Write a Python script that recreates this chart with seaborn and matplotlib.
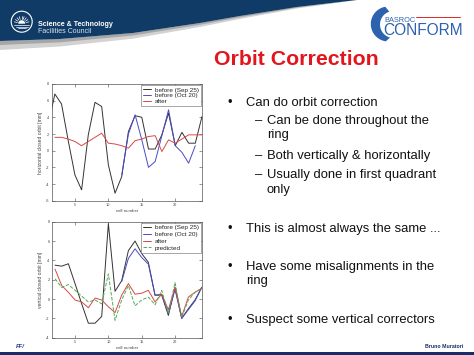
import matplotlib
matplotlib.use("Agg")
import matplotlib.pyplot as plt
import seaborn as sns
import numpy as np
from matplotlib.patches import Polygon, Circle

# ---------------- data ----------------
h_cells_sep = list(range(1, 25))
h_before_sep = [3.0, 6.8, 5.6, 1.2, -2.9, -4.7, 1.9, 5.8, 5.3, -1.7, -5.1, -3.1,
                2.3, 4.2, 4.0, 0.2, 0.2, 1.9, 4.5, 0.6, 2.2, 0.9, 0.9, 4.1]
h_cells_oct = list(range(12, 24))
h_before_oct = [-2.9, 2.0, 4.3, 1.3, -2.0, -1.3, 1.8, 4.9, 0.6, -0.2, -1.5, 0.6]
h_cells_after = list(range(2, 25))
h_after = [1.6, 1.6, 1.4, 1.1, 0.6, 1.1, 1.6, 2.1, 0.9, 0.8, 0.6, 0.3,
           1.2, 1.4, 1.7, 1.8, -0.1, 1.3, 0.9, 1.4, 1.9, 1.9, 1.9]

v_cells = list(range(2, 25))
v_before_sep = [3.5, 3.4, 3.65, 1.6, -0.5, -2.5, -2.5, -1.8, 7.8, 0.8, 1.9, 5.0,
                6.0, 4.7, 3.8, 0.4, 0.4, -1.7, 1.2, -2.0, -1.0, -0.1, 1.2]
v_cells_oct = list(range(12, 25))
v_before_oct = [1.8, 4.2, 5.2, 4.3, 3.6, 0.4, 0.5, -1.5, 1.0, -2.0, -1.1, -0.2, 1.2]
v_after = [3.1, 1.4, 0.7, -0.1, -0.3, -0.9, 0.1, -0.1, -0.8, -1.4, 0.4, 1.6,
           0.5, 0.6, 0.9, -0.3, 0.5, -1.1, 1.2, -1.8, 0.2, 0.7, 1.1]
v_predicted = [2.1, 1.2, 1.5, 0.9, 0.3, -0.3, -0.1, -0.5, 2.6, -2.2, -0.1, 1.4,
               -0.7, -0.1, 0.2, -0.6, 0.9, -1.5, 1.7, -1.9, -0.1, 0.7, 1.1]

labels = ["before (Sep 25)", "before (Oct 20)", "after", "predicted"]
x_ticks = [5, 10, 15, 20]
h_yticks = [-6, -4, -2, 0, 2, 4, 6, 8]
v_yticks = [-4, -2, 0, 2, 4, 6, 8]

title = "Orbit Correction"
bullets = [
    ("•", "Can do orbit correction", 105.7, 0),
    ("–", "Can be done throughout the", 124.3, 1),
    ("", "ring", 138.3, 1),
    ("–", "Both vertically & horizontally", 159.0, 1),
    ("–", "Usually done in first quadrant", 177.7, 1),
    ("", "only", 192.7, 1),
    ("•", "This is almost always the same ...", 232.0, 0),
    ("•", "Have some misalignments in the", 269.7, 0),
    ("", "ring", 284.3, 0),
    ("•", "Suspect some vertical correctors", 323.3, 0),
]

# ---------------- style ----------------
sns.set_theme(style="ticks")
plt.rcParams["font.family"] = ["Liberation Sans", "DejaVu Sans"]

C_BLACK = "#333333"
C_BLUE = "#4a4ac8"
C_RED = "#d84848"
C_GREEN = "#55aa55"

fig = plt.figure(figsize=(4.74, 3.55), dpi=100)
fig.patch.set_facecolor("white")

# ---------------- slide decoration (pixel coordinates) ----------------
bg = fig.add_axes([0, 0, 1, 1], zorder=0)
bg.set_xlim(0, 474)
bg.set_ylim(355, 0)
bg.axis("off")

bx = np.linspace(0, 357, 200)
by = np.interp(bx, [0, 60, 133, 200, 240, 297, 357], [41, 39, 33, 23, 16, 7, 0])
thick = 9 * (1 - bx / 357)
gray_pts = list(zip(bx, by)) + list(zip(bx[::-1], (by + thick)[::-1]))
bg.add_patch(Polygon(gray_pts, closed=True, facecolor="#d2d2d2", edgecolor="none"))
thick2 = 4 * (1 - bx / 357)
gray2 = list(zip(bx, by)) + list(zip(bx[::-1], (by + thick2)[::-1]))
bg.add_patch(Polygon(gray2, closed=True, facecolor="#a6a6a6", edgecolor="none"))
navy_pts = [(0, 0), (357, 0)] + list(zip(bx[::-1], by[::-1]))
bg.add_patch(Polygon(navy_pts, closed=True, facecolor="#0f3b66", edgecolor="none"))

# STFC logo
cx, cy = 21.7, 21.7
bg.add_patch(Circle((cx, cy), 10.5, facecolor="none", edgecolor="white", lw=0.8))
th = np.linspace(0, np.pi, 40)
bg.add_patch(Polygon(list(zip(cx + 3.5 * np.cos(th), cy + 2 - 3.5 * np.sin(th))),
                     closed=True, facecolor="white", edgecolor="none"))
for a in np.linspace(0.25, np.pi - 0.25, 9):
    bg.plot([cx + 4.5 * np.cos(a), cx + 7.5 * np.cos(a)],
            [cy + 2 - 4.5 * np.sin(a), cy + 2 - 7.5 * np.sin(a)], color="white", lw=0.5)
for k, w in enumerate([7.5, 6, 4]):
    bg.plot([cx - w, cx + w], [cy + 3.2 + 1.6 * k, cy + 3.2 + 1.6 * k], color="white", lw=0.5)
bg.text(37.7, 26, "Science & Technology", color="white", fontsize=5.1,
        fontweight="bold", va="baseline", ha="left")
bg.text(37.7, 33, "Facilities Council", color="#dde4ee", fontsize=5.0,
        va="baseline", ha="left")

# BASROC CONFORM logo
ocx, ocy, orr = 388.3, 24.0, 17.5
icx, icy, irr = 393.5, 24.5, 13.5
t1 = np.radians(np.linspace(100, 262, 60))
t2 = np.radians(np.linspace(255, 108, 60))
c_pts = list(zip(ocx + orr * np.cos(t1), ocy - orr * np.sin(t1))) + \
        list(zip(icx + irr * np.cos(t2), icy - irr * np.sin(t2)))
bg.add_patch(Polygon(c_pts, closed=True, facecolor="#2d62ae", edgecolor="none"))
bg.text(384, 21.7, "BASROC", color="#2d62ae", fontsize=5.3, va="baseline", ha="left")
bg.plot([416, 460], [16.5, 16.5], color="#d62a2a", lw=0.7)
bg.text(383, 35, "CONFORM", color="#2d62ae", fontsize=11.2, va="baseline", ha="left")

# title
bg.text(296.5, 65, title, color="#e3151c", fontsize=15.3, fontweight="bold",
        ha="center", va="baseline")

# bullets
for sym, txt, yb, lvl in bullets:
    if lvl == 0:
        if sym:
            bg.text(228, yb, sym, fontsize=9.4, color="#111111", va="baseline", ha="left")
        bg.text(246, yb, txt, fontsize=9.4, color="#111111", va="baseline", ha="left")
    else:
        if sym:
            bg.text(255, yb, sym, fontsize=9.4, color="#111111", va="baseline", ha="left")
        bg.text(266.7, yb, txt, fontsize=9.4, color="#111111", va="baseline", ha="left")

# footer
bg.add_patch(plt.Rectangle((0, 352), 474, 3, facecolor="#1b2a6b", edgecolor="none"))
bg.text(16, 347.5, "FF/", color="#2a3c8c", fontsize=4.2, fontstyle="italic",
        fontweight="bold", va="baseline", ha="left")
bg.text(463, 347.5, "Bruno Muratori", color="#1b2a6b", fontsize=3.8,
        fontweight="bold", va="baseline", ha="right")


# ---------------- charts ----------------
def style_axes(ax, yticks, ylim, ylabel):
    ax.set_xlim(1.5, 24)
    ax.set_ylim(*ylim)
    ax.set_xticks(x_ticks)
    ax.set_yticks(yticks)
    ax.set_xticklabels([str(t) for t in x_ticks])
    ax.set_yticklabels([str(t) for t in yticks])
    ax.tick_params(direction="in", length=2, width=0.4, labelsize=2.8,
                   colors="#444444", pad=1.5, top=True, right=True)
    for s in ax.spines.values():
        s.set_visible(True)
        s.set_linewidth(0.5)
        s.set_color("#555555")
    ax.set_xlabel("cell number", fontsize=3.2, color="#444444", labelpad=1.5)
    ax.set_ylabel(ylabel, fontsize=3.6, color="#444444", labelpad=2)
    ax.set_facecolor("white")


ax1 = fig.add_axes([51.5 / 474, (355 - 200.7) / 355, 150.5 / 474, 116.7 / 355], zorder=2)
sns.lineplot(x=h_cells_sep, y=h_before_sep, ax=ax1, color=C_BLACK, lw=0.7, label=labels[0])
sns.lineplot(x=h_cells_oct, y=h_before_oct, ax=ax1, color=C_BLUE, lw=0.7, label=labels[1])
sns.lineplot(x=h_cells_after, y=h_after, ax=ax1, color=C_RED, lw=0.7, label=labels[2])
style_axes(ax1, h_yticks, (-6, 8), "horizontal closed orbit [mm]")
ax1.legend(loc="upper right", fontsize=4.6, frameon=True, fancybox=False,
           edgecolor="#666666", framealpha=1, handlelength=1.2, handletextpad=0.6,
           labelspacing=0.05, borderpad=0.35, borderaxespad=0.15).get_frame().set_linewidth(0.4)

ax2 = fig.add_axes([51.7 / 474, (355 - 337.7) / 355, 150 / 474, 116 / 355], zorder=2)
sns.lineplot(x=v_cells, y=v_before_sep, ax=ax2, color=C_BLACK, lw=0.7, label=labels[0])
sns.lineplot(x=v_cells_oct, y=v_before_oct, ax=ax2, color=C_BLUE, lw=0.7, label=labels[1])
sns.lineplot(x=v_cells, y=v_after, ax=ax2, color=C_RED, lw=0.7, label=labels[2])
sns.lineplot(x=v_cells, y=v_predicted, ax=ax2, color=C_GREEN, lw=0.7, ls="--", label=labels[3])
style_axes(ax2, v_yticks, (-4, 8), "vertical closed orbit [mm]")
ax2.legend(loc="upper right", fontsize=4.6, frameon=True, fancybox=False,
           edgecolor="#666666", framealpha=1, handlelength=1.2, handletextpad=0.6,
           labelspacing=0.2, borderpad=0.35, borderaxespad=0.15).get_frame().set_linewidth(0.4)

fig.savefig("out.png", dpi=100, facecolor="white")
